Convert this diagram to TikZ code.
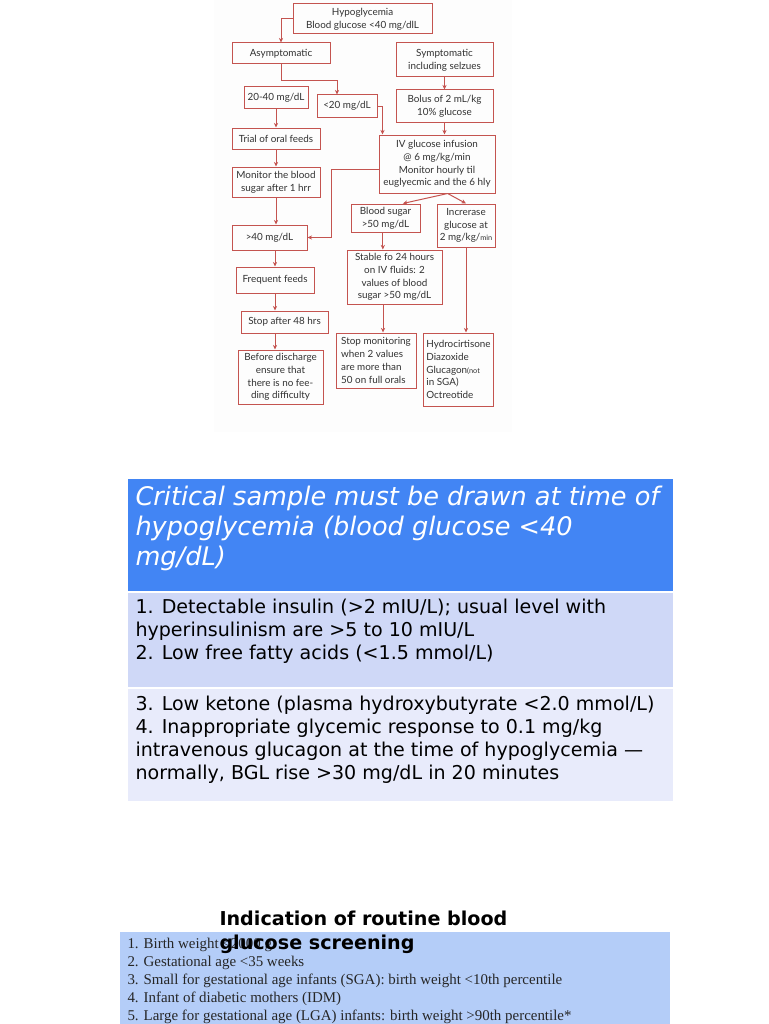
\documentclass[tikz,border=0pt]{standalone}
\usepackage{fontspec}
\setmainfont{DejaVu Sans}
\newfontfamily\latofont{Lato}
\newfontfamily\timesfont{Liberation Serif}
\usetikzlibrary{arrows.meta}

\definecolor{boxred}{RGB}{196,84,80}
\definecolor{chartgray}{RGB}{50,50,50}
\definecolor{headblue}{RGB}{66,133,244}
\definecolor{rowlav}{RGB}{207,216,247}
\definecolor{rowpale}{RGB}{232,235,251}
\definecolor{listblue}{RGB}{180,205,248}

\tikzset{every picture/.style={line width=0.75pt}}
\tikzset{
  chartbox/.style={draw=boxred, text=chartgray, inner xsep=2pt, inner ysep=0pt,
    align=center, font=\latofont\fontsize{7.4}{9.6}\selectfont},
  sized/.style 2 args={minimum width=#1*0.75pt, minimum height=#2*0.75pt},
  flow/.style={draw=boxred, -{Stealth[length=3.5pt,width=3.2pt]}},
  panelfont/.style={anchor=north west, inner sep=0pt, align=left,
    font=\fontsize{14.3}{17.2}\selectfont},
}

\begin{document}
\begin{tikzpicture}[x=0.75pt,y=0.75pt,yscale=-1,xscale=1]
\useasboundingbox (0,0) rectangle (768,1024);

%Shape: Rectangle [flowchart background]
\fill[black!0.8] (214,0) rectangle (512,432);

% Flowchart boxes
\node[chartbox, sized={139}{30}] (hypo) at (362.5,19) {Hypoglycemia\\Blood glucose <40 mg/dlL};
\node[chartbox, sized={98}{21}] (asym) at (281,53.5) {Asymptomatic};
\node[chartbox, sized={97}{34}] (symp) at (444.5,60) {Symptomatic\\including selzues};
\node[chartbox, sized={64}{21}] (r2040) at (276,97.5) {20-40 mg/dL};
\node[chartbox, sized={60}{22}] (lt20) at (347,106) {<20 mg/dL};
\node[chartbox, sized={97}{32}] (bolus) at (444.5,106) {Bolus of 2 mL/kg\\10\% glucose};
\node[chartbox, sized={88}{21}] (trial) at (276,138.5) {Trial of oral feeds};
\node[chartbox, sized={88}{30}] (monitor) at (276,182) {Monitor the blood\\sugar after 1 hrr};
\node[chartbox, sized={116}{58}] (iv) at (437,164) {IV glucose infusion\\@ 6 mg/kg/min\\Monitor hourly til\\euglyecmic and the 6 hly};
\node[chartbox, sized={75}{25}] (gt40) at (269.5,237.5) {>40 mg/dL};
\node[chartbox, sized={69}{28}] (bs50) at (385.5,218) {Blood sugar\\>50 mg/dL};
\node[chartbox, sized={58}{43}] (incr) at (466,225.5) {Increrase\\glucose at\\2 mg/kg/{\fontsize{5.5}{6}\selectfont min}};
\node[chartbox, sized={95}{54}] (stable) at (394.5,277) {Stable fo 24 hours\\on IV fluids: 2\\values of blood\\sugar >50 mg/dL};
\node[chartbox, sized={78}{26}] (freq) at (275,280) {Frequent feeds};
\node[chartbox, sized={87}{22}] (stop48) at (284.5,322) {Stop after 48 hrs};
\node[chartbox, sized={85}{54}] (discharge) at (280.5,377) {Before discharge\\ensure that\\there is no fee-\\ding difficulty};
\node[chartbox, sized={80}{55}, align=left] (stopmon) at (376,360.5) {Stop monitoring\\when 2 values\\are more than\\50 on full orals};
\node[chartbox, sized={69}{73}, align=left] (hydro) at (458.5,369.5) {Hydrocirtisone\\Diazoxide\\Glucagon{\fontsize{5.5}{6}\selectfont (not}\\in SGA)\\Octreotide};

% Flowchart connectors
\draw[flow] (hypo.west) -| (asym.north);
\draw[flow] (asym.south) -- ++(0,16) -| ([xshift=-7.5pt]lt20.north);
\draw[flow] (symp.south) -- (bolus.north);
\draw[flow] (bolus.south) -- (bolus.south |- iv.north);
\draw[flow] (lt20.east) -| ([xshift=3pt]iv.north west);
\draw[flow] (r2040.south) -- (r2040.south |- trial.north);
\draw[flow] (trial.south) -- (monitor.north);
\draw[flow] (monitor.south) -- (monitor.south |- gt40.north);
\draw[flow] ([yshift=3.75pt]iv.west) -- ++(-47,0) |- (gt40.east);
\draw[flow] ([xshift=8pt]iv.south) -- ([xshift=13pt]bs50.north);
\draw[flow] ([xshift=8pt]iv.south) -- (incr.north);
\draw[flow] ([xshift=-2pt]bs50.south) -- ([xshift=-2pt]bs50.south |- stable.north);
\draw[flow] (incr.south) -- (incr.south |- hydro.north);
\draw[flow] ([xshift=-8.6pt]stable.south) -- ([xshift=-8.6pt]stable.south |- stopmon.north);
\draw[flow] (gt40.south -| freq.north) -- (freq.north);
\draw[flow] (freq.south) -- (freq.south |- stop48.north);
\draw[flow] (freq.south |- stop48.south) -- (freq.south |- discharge.north);

%Shape: Rectangle [critical sample table]
\fill[headblue] (128,479) rectangle (673,591);
\fill[rowlav] (128,593) rectangle (673,687);
\fill[rowpale] (128,689) rectangle (673,801);

% Text Node
\node[anchor=north west, inner sep=0pt, align=left, text=white,
  font=\fontsize{19.2}{22.5}\selectfont\itshape] (critical) at (135,486)
  {Critical sample must be drawn at time of\\hypoglycemia (blood glucose <40\\mg/dL)};
% Text Node
\node[panelfont] (insulin) at (135,599)
  {1. Detectable insulin (>2 mIU/L); usual level with\\hyperinsulinism are >5 to 10 mIU/L\\2. Low free fatty acids (<1.5 mmol/L)};
% Text Node
\node[panelfont] (ketone) at (135,696)
  {3. Low ketone (plasma hydroxybutyrate <2.0 mmol/L)\\4. Inappropriate glycemic response to 0.1 mg/kg\\intravenous glucagon at the time of hypoglycemia —\\normally, BGL rise >30 mg/dL in 20 minutes};

%Shape: Rectangle [screening list]
\fill[listblue] (120,932) rectangle (670,1024);
% Text Node
\node[anchor=north west, inner sep=0pt, align=left, text=black!85,
  font=\timesfont\fontsize{11.2}{13.5}\selectfont] (screenlist) at (127,938)
  {1. Birth weight <2000 g\\2. Gestational age <35 weeks\\3. Small for gestational age infants (SGA): birth weight <10th percentile\\4. Infant of diabetic mothers (IDM)\\5. Large for gestational age (LGA) infants: birth weight >90th percentile*};
% Text Node
\node[anchor=north west, inner sep=0pt, align=left,
  font=\fontsize{14.35}{18}\selectfont\bfseries] (screentitle) at (219,910)
  {Indication of routine blood\\glucose screening};

\end{tikzpicture}
\end{document}
